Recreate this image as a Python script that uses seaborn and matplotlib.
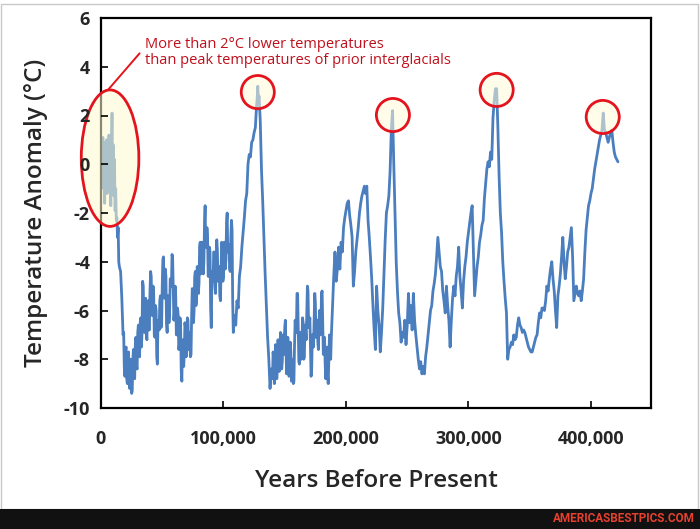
import matplotlib
matplotlib.use("Agg")
import matplotlib.pyplot as plt
from matplotlib.patches import Ellipse, Rectangle
import seaborn as sns
import pandas as pd

# ---- data (Vostok-style temperature anomaly in °C; ages in kyr BP) ----
# Holocene + last deglaciation
seg_a_kyr = [0, 0.5, 1, 1.5, 2, 2.5, 3, 3.5, 4, 4.5, 5, 5.5, 6, 6.5, 7, 7.5, 8, 8.5, 9, 9.5,
             10, 10.5, 11, 11.5, 12, 12.5, 13, 13.5, 14, 14.5, 15, 16, 17]
seg_a_temp = [-0.3, 0.9, -0.8, 1.1, -1.0, 0.6, -1.6, 0.9, -0.2, 1.0, -1.2, 0.4, -0.5, 1.2, -0.9, 0.3, -1.7, 0.5, 2.1, -0.4,
              0.8, -1.3, 0.2, -1.9, -1.0, -2.3, -2.2, -3.0, -2.6, -4.0, -4.2, -4.4, -5.5]

# last glacial period
seg_b_kyr = [18, 18.5, 19, 19.5, 20, 20.5, 21, 21.5, 22, 22.5, 23, 23.5, 24, 24.5, 25, 25.5, 26, 26.5, 27, 27.5,
             28, 28.5, 29, 29.5, 30, 30.5, 31, 31.5, 32, 32.5, 33, 33.5, 34, 34.5, 35, 35.5, 36, 36.5, 37, 37.5,
             38, 38.5, 39, 39.5, 40, 40.5, 41, 41.5, 42, 42.5, 43, 43.5, 44, 44.5, 45, 45.5, 46, 46.5, 47, 47.5,
             48, 48.5, 49, 49.5, 50, 50.5, 51, 51.5, 52, 52.5, 53, 53.5, 54, 54.5, 55, 55.5, 56, 56.5, 57, 57.5,
             58, 58.5, 59, 59.5, 60, 60.5, 61, 61.5, 62, 62.5, 63, 63.5, 64, 64.5, 65, 65.5, 66, 66.5, 67, 67.5,
             68, 68.5, 69, 69.5, 70, 70.5, 71, 71.5, 72, 72.5, 73, 73.5, 74, 74.5, 75, 75.5, 76, 76.5, 77, 77.5,
             78, 78.5, 79, 79.5, 80, 80.5, 81, 81.5, 82, 82.5, 83, 83.5, 84, 84.5, 85, 85.5, 86, 86.5, 87, 87.5,
             88, 88.5, 89, 89.5, 90, 90.5, 91, 91.5, 92, 92.5, 93, 93.5, 94, 94.5, 95, 95.5, 96, 96.5, 97, 97.5,
             98, 98.5, 99, 99.5, 100, 100.5, 101, 101.5, 102, 102.5, 103, 103.5, 104, 104.5, 105, 105.5, 106, 106.5, 107, 107.5]
seg_b_temp = [-7.0, -6.9, -8.3, -8.7, -7.6, -7.5, -8.8, -9.0, -7.8, -7.7, -9.0, -9.2, -8.2, -8.0, -9.4, -9.3, -8.0, -7.6, -8.6, -8.8,
              -7.4, -7.1, -8.3, -8.4, -6.9, -6.6, -7.8, -7.9, -6.5, -6.3, -7.5, -6.9, -4.8, -5.0, -6.6, -6.9, -5.6, -5.5, -7.0, -7.2,
              -5.9, -5.6, -6.8, -6.8, -5.2, -4.4, -4.6, -6.2, -6.2, -5.0, -5.3, -7.0, -7.1, -5.8, -6.0, -7.9, -8.2, -6.5, -6.4, -6.8,
              -5.6, -5.4, -6.7, -6.6, -5.0, -3.9, -3.8, -5.4, -5.5, -4.3, -4.6, -6.5, -6.9, -5.4, -5.4, -6.5, -6.1, -4.7, -4.7, -5.0,
              -3.7, -3.9, -5.2, -6.4, -6.0, -5.0, -5.4, -7.0, -7.0, -5.9, -6.2, -7.6, -7.4, -6.3, -6.6, -8.5, -8.9, -7.3, -7.2, -8.3,
              -7.8, -6.5, -6.7, -7.9, -7.6, -6.3, -6.4, -7.6, -7.3, -6.9, -7.9, -7.8, -6.2, -5.1, -5.4, -6.5, -6.0, -4.6, -4.4, -5.8,
              -5.6, -4.2, -4.2, -5.3, -4.9, -3.4, -3.2, -4.5, -4.3, -3.2, -3.5, -4.5, -4.0, -2.4, -1.7, -3.4, -3.4, -2.6, -3.0, -4.6,
              -4.6, -3.4, -3.6, -5.9, -6.7, -4.9, -4.4, -4.8, -3.6, -3.6, -5.0, -5.3, -4.0, -3.1, -3.5, -4.8, -4.5, -4.2, -5.4, -5.6,
              -4.3, -3.2, -3.4, -4.8, -4.6, -3.2, -3.2, -4.3, -3.9, -2.4, -2.0, -3.6, -3.6, -3.3, -4.3, -4.4, -3.0, -2.3, -2.7, -5.6]

# Eemian interglacial and termination II
seg_c_kyr = [108, 109, 110, 111, 112, 113, 114, 115, 116, 117, 118, 119, 120, 121, 122, 123, 124, 125, 126, 127,
             127.5, 128, 128.5, 129, 130, 131, 132, 133, 134, 135, 136, 137, 138, 139, 140]
seg_c_temp = [-6.9, -6.2, -6.6, -5.6, -5.9, -4.6, -4.2, -3.4, -2.8, -2.2, -1.5, -1.2, 0.0, 0.4, 0.3, 0.9, 1.0, 1.3, 1.5, 2.4,
              2.7, 3.2, 2.5, 2.8, 1.8, -0.2, -1.5, -3.0, -4.5, -5.8, -7.1, -8.0, -9.2, -8.4, -8.8]

# penultimate glacial
seg_d_kyr = [140.5, 141, 141.5, 142, 142.5, 143, 143.5, 144, 144.5, 145, 145.5, 146, 146.5, 147, 147.5, 148, 148.5, 149, 149.5, 150,
             150.5, 151, 151.5, 152, 152.5, 153, 153.5, 154, 154.5, 155, 155.5, 156, 156.5, 157, 157.5, 158, 158.5, 159, 159.5, 160,
             160.5, 161, 161.5, 162, 162.5, 163, 163.5, 164, 164.5, 165, 165.5, 166, 166.5, 167, 167.5, 168, 168.5, 169, 169.5, 170,
             170.5, 171, 171.5, 172, 172.5, 173, 173.5, 174, 174.5, 175, 175.5, 176, 176.5, 177, 177.5, 178, 178.5, 179, 179.5, 180,
             180.5, 181, 181.5, 182, 182.5, 183, 183.5, 184, 184.5, 185, 185.5, 186, 186.5, 187, 187.5]
seg_d_temp = [-7.7, -8.0, -9.0, -8.5, -7.4, -7.8, -8.8, -8.3, -7.2, -7.6, -8.5, -8.0, -6.9, -7.2, -8.4, -8.1, -7.0, -7.4, -7.8, -6.7,
              -6.4, -7.6, -8.6, -8.2, -7.1, -7.5, -8.7, -8.4, -7.3, -7.7, -8.9, -8.6, -8.0, -9.0, -8.9, -7.4, -6.4, -6.8, -6.9, -5.3,
              -5.3, -6.6, -8.1, -8.2, -6.9, -7.0, -8.0, -7.6, -6.3, -6.5, -8.0, -7.9, -6.6, -6.8, -7.2, -6.0, -5.0, -5.2, -6.7, -6.6,
              -6.3, -7.5, -8.7, -8.4, -7.0, -7.1, -7.5, -6.3, -5.3, -5.7, -7.1, -6.9, -6.4, -7.3, -7.6, -6.4, -6.0, -7.0, -6.9, -5.3,
              -5.2, -6.5, -7.8, -7.6, -7.1, -8.2, -8.8, -7.8, -7.5, -8.7, -9.0, -8.0, -7.0, -7.5, -8.0]

# older cycles (188 - 422 kyr)
seg_e_kyr = [188, 189, 190, 191, 192, 193, 194, 195, 196, 197, 198, 199, 200, 201, 202, 203, 204, 205, 206, 207,
             208, 209, 210, 211, 212, 213, 214, 215, 216, 217, 218, 219, 220, 221, 222, 223, 224, 225, 226, 227,
             228, 229, 230, 231, 232, 233, 234, 235, 236, 237, 238, 238.5, 239, 240, 241, 242, 243, 244, 245, 246,
             247, 248, 249, 250, 251, 252, 253, 254, 255, 256, 257, 258, 259, 260, 261, 262, 263, 264, 265, 266,
             267, 268, 269, 270, 271, 272, 273, 274, 275, 276, 277, 278, 279, 280, 281, 282, 283, 284, 285, 286,
             287, 288, 289, 290, 291, 292, 293, 294, 295, 296, 297, 298, 299, 300, 301, 302, 303, 304, 305, 306,
             307, 308, 309, 310, 311, 312, 313, 314, 315, 316, 317, 318, 319, 320, 321, 322, 323, 324, 325, 326,
             327, 328, 329, 330, 331, 332, 333, 334, 335, 336, 337, 338, 339, 340, 341, 342, 343, 344, 345, 346,
             347, 348, 349, 350, 351, 352, 353, 354, 355, 356, 357, 358, 359, 360, 361, 362, 363, 364, 365, 366,
             367, 368, 369, 370, 371, 372, 373, 374, 375, 376, 377, 378, 379, 380, 381, 382, 383, 384, 385, 386,
             387, 388, 389, 390, 391, 392, 393, 394, 395, 396, 397, 398, 399, 400, 401, 402, 403, 404, 405, 406,
             407, 408, 409, 410, 411, 412, 413, 414, 415, 416, 417, 418, 419, 420, 421, 422]
seg_e_temp = [-7.1, -5.8, -4.6, -3.6, -4.8, -4.3, -3.4, -4.3, -3.2, -3.6, -2.6, -2.2, -1.9, -1.6, -1.5, -2.1, -2.5, -3.0, -5.0, -4.4,
              -3.6, -3.1, -2.6, -2.0, -1.6, -1.3, -1.1, -0.9, -1.2, -0.9, -2.3, -3.0, -3.8, -4.7, -5.8, -6.8, -7.6, -5.0, -6.0, -6.6,
              -7.7, -6.9, -5.9, -4.5, -3.1, -2.0, -1.7, -1.3, -0.3, 1.4, 2.2, 1.2, 0.05, -2.0, -4.0, -5.2, -6.1, -6.5, -7.3, -6.9,
              -7.1, -6.4, -7.4, -6.6, -5.3, -6.5, -5.8, -6.8, -5.3, -6.4, -7.0, -7.5, -8.0, -8.4, -8.1, -8.6, -8.3, -8.6, -7.9, -7.5,
              -7.0, -6.5, -6.0, -5.8, -5.2, -4.9, -4.5, -3.8, -3.0, -3.6, -4.2, -4.4, -5.2, -5.6, -6.1, -5.0, -5.8, -6.4, -7.5, -6.4,
              -5.5, -5.0, -5.4, -4.6, -4.2, -3.4, -4.6, -5.2, -5.9, -4.8, -4.2, -3.8, -3.2, -2.8, -2.4, -2.0, -1.7, -3.5, -5.4, -4.8,
              -4.2, -3.8, -3.2, -2.9, -2.5, -2.3, -1.4, -0.8, -0.2, 0.1, -0.1, 0.5, 0.2, 1.9, 2.6, 3.1, 3.1, 1.5, -0.5, -2.0,
              -2.8, -4.0, -4.8, -5.5, -6.1, -8.0, -7.6, -7.5, -7.3, -7.4, -7.0, -7.2, -7.1, -6.6, -6.3, -6.6, -6.7, -6.9, -6.8, -6.9,
              -7.1, -7.3, -7.5, -7.6, -7.7, -7.7, -7.5, -7.3, -7.1, -7.0, -6.5, -6.1, -6.3, -5.9, -5.9, -6.0, -5.6, -5.0, -5.2, -4.7,
              -4.3, -4.0, -4.7, -5.2, -6.0, -6.7, -5.4, -5.0, -4.5, -3.8, -3.0, -4.0, -4.7, -4.2, -3.6, -3.4, -3.0, -2.6, -3.8, -5.6,
              -5.3, -5.0, -5.3, -5.4, -5.2, -5.6, -5.2, -4.7, -3.6, -2.7, -2.2, -1.7, -1.5, -1.2, -1.0, -0.6, -0.2, 0.1, 0.4, 0.7,
              1.0, 1.2, 1.4, 2.1, 1.4, 1.3, 1.1, 0.9, 1.1, 1.3, 1.4, 0.9, 0.5, 0.3, 0.2, 0.1]

x_ticks = [0, 100000, 200000, 300000, 400000]
x_tick_labels = ["0", "100,000", "200,000", "300,000", "400,000"]
y_ticks = [-10, -8, -6, -4, -2, 0, 2, 4, 6]
y_tick_labels = ["-10", "-8", "-6", "-4", "-2", "0", "2", "4", "6"]
x_label = "Years Before Present"
y_label = "Temperature Anomaly (°C)"
note_text = "More than 2°C lower temperatures\nthan peak temperatures of prior interglacials"
watermark = "AMERICASBESTPICS.COM"

# highlight markers (centre x [years], centre y [°C])
holocene_ellipse = (7400, 0.25, 47000, 5.6)
peak_x = [128000, 238300, 323000, 409600]
peak_y = [2.96, 2.02, 3.05, 1.94]
peak_w = 27000
peak_h = 1.36
pointer_x = [5700, 31500]
pointer_y = [3.05, 4.55]
note_pos = (36000, 5.2)

# ---- assemble ----
kyr_all, temp_all = [], []
for ks, ts in [(seg_a_kyr, seg_a_temp), (seg_b_kyr, seg_b_temp), (seg_c_kyr, seg_c_temp),
               (seg_d_kyr, seg_d_temp), (seg_e_kyr, seg_e_temp)]:
    for k, t in zip(ks, ts):
        kyr_all.append(k)
        temp_all.append(t)
df = pd.DataFrame({"years": [k * 1000 for k in kyr_all], "temp": temp_all})

# ---- plotting ----
sns.set_style("white")
plt.rcParams["font.family"] = ["Open Sans", "DejaVu Sans"]

fig = plt.figure(figsize=(7.0, 5.29), dpi=100)
fig.patch.set_facecolor("white")
ax = fig.add_axes([101 / 700, 1 - 408 / 529, 550 / 700, 390 / 529])

sns.lineplot(data=df, x="years", y="temp", ax=ax, color="#4a7ebf", linewidth=2.0,
             estimator=None, sort=False, zorder=2)

ax.set_xlim(0, 449000)
ax.set_ylim(-10, 6)
ax.set_xticks(x_ticks)
ax.set_xticklabels(x_tick_labels, fontsize=13, fontweight="bold")
ax.set_yticks(y_ticks)
ax.set_yticklabels(y_tick_labels, fontsize=13, fontweight="bold")
ax.tick_params(axis="both", direction="in", length=5, width=1.2, color="black",
               left=True, bottom=True, top=False, right=False)
ax.tick_params(axis="x", pad=16)
ax.tick_params(axis="y", pad=8)
for s in ax.spines.values():
    s.set_visible(True)
    s.set_color("black")
    s.set_linewidth(1.6)

ax.set_xlabel(x_label, fontsize=17.5, fontweight="semibold", labelpad=15)
ax.set_ylabel(y_label, fontsize=17.5, fontweight="semibold", labelpad=11)

# highlight ellipses
cx, cy, w, h = holocene_ellipse
ax.add_patch(Ellipse((cx, cy), w, h, facecolor=(1.0, 0.98, 0.82, 0.55),
                     edgecolor="#e3141d", linewidth=2.0, zorder=3, clip_on=False))
for px, py in zip(peak_x, peak_y):
    ax.add_patch(Ellipse((px, py), peak_w, peak_h, facecolor=(1.0, 0.98, 0.85, 0.55),
                         edgecolor="#e3141d", linewidth=2.0, zorder=3))
ax.plot(pointer_x, pointer_y, color="#e3141d", linewidth=1.4, zorder=3)
ax.text(note_pos[0], note_pos[1], note_text, color="#c0101c", fontsize=10.5,
        ha="left", va="top", linespacing=1.0, zorder=4)
ax.yaxis.set_zorder(5)

# picture frame + bottom band
fig.add_artist(Rectangle((0.001, 1 - 509 / 529), 0.996, 505 / 529, transform=fig.transFigure,
                         facecolor="none", edgecolor="#c8c8c8", linewidth=1.0))
fig.add_artist(Rectangle((0, 0), 1, 20 / 529, transform=fig.transFigure,
                         facecolor="#111111", edgecolor="none"))
fig.text(0.993, 10 / 529, watermark, color="#e8402e", fontsize=8.5, fontweight="bold",
         ha="right", va="center", family=["Roboto", "DejaVu Sans"])

fig.savefig("out.png", dpi=100)
